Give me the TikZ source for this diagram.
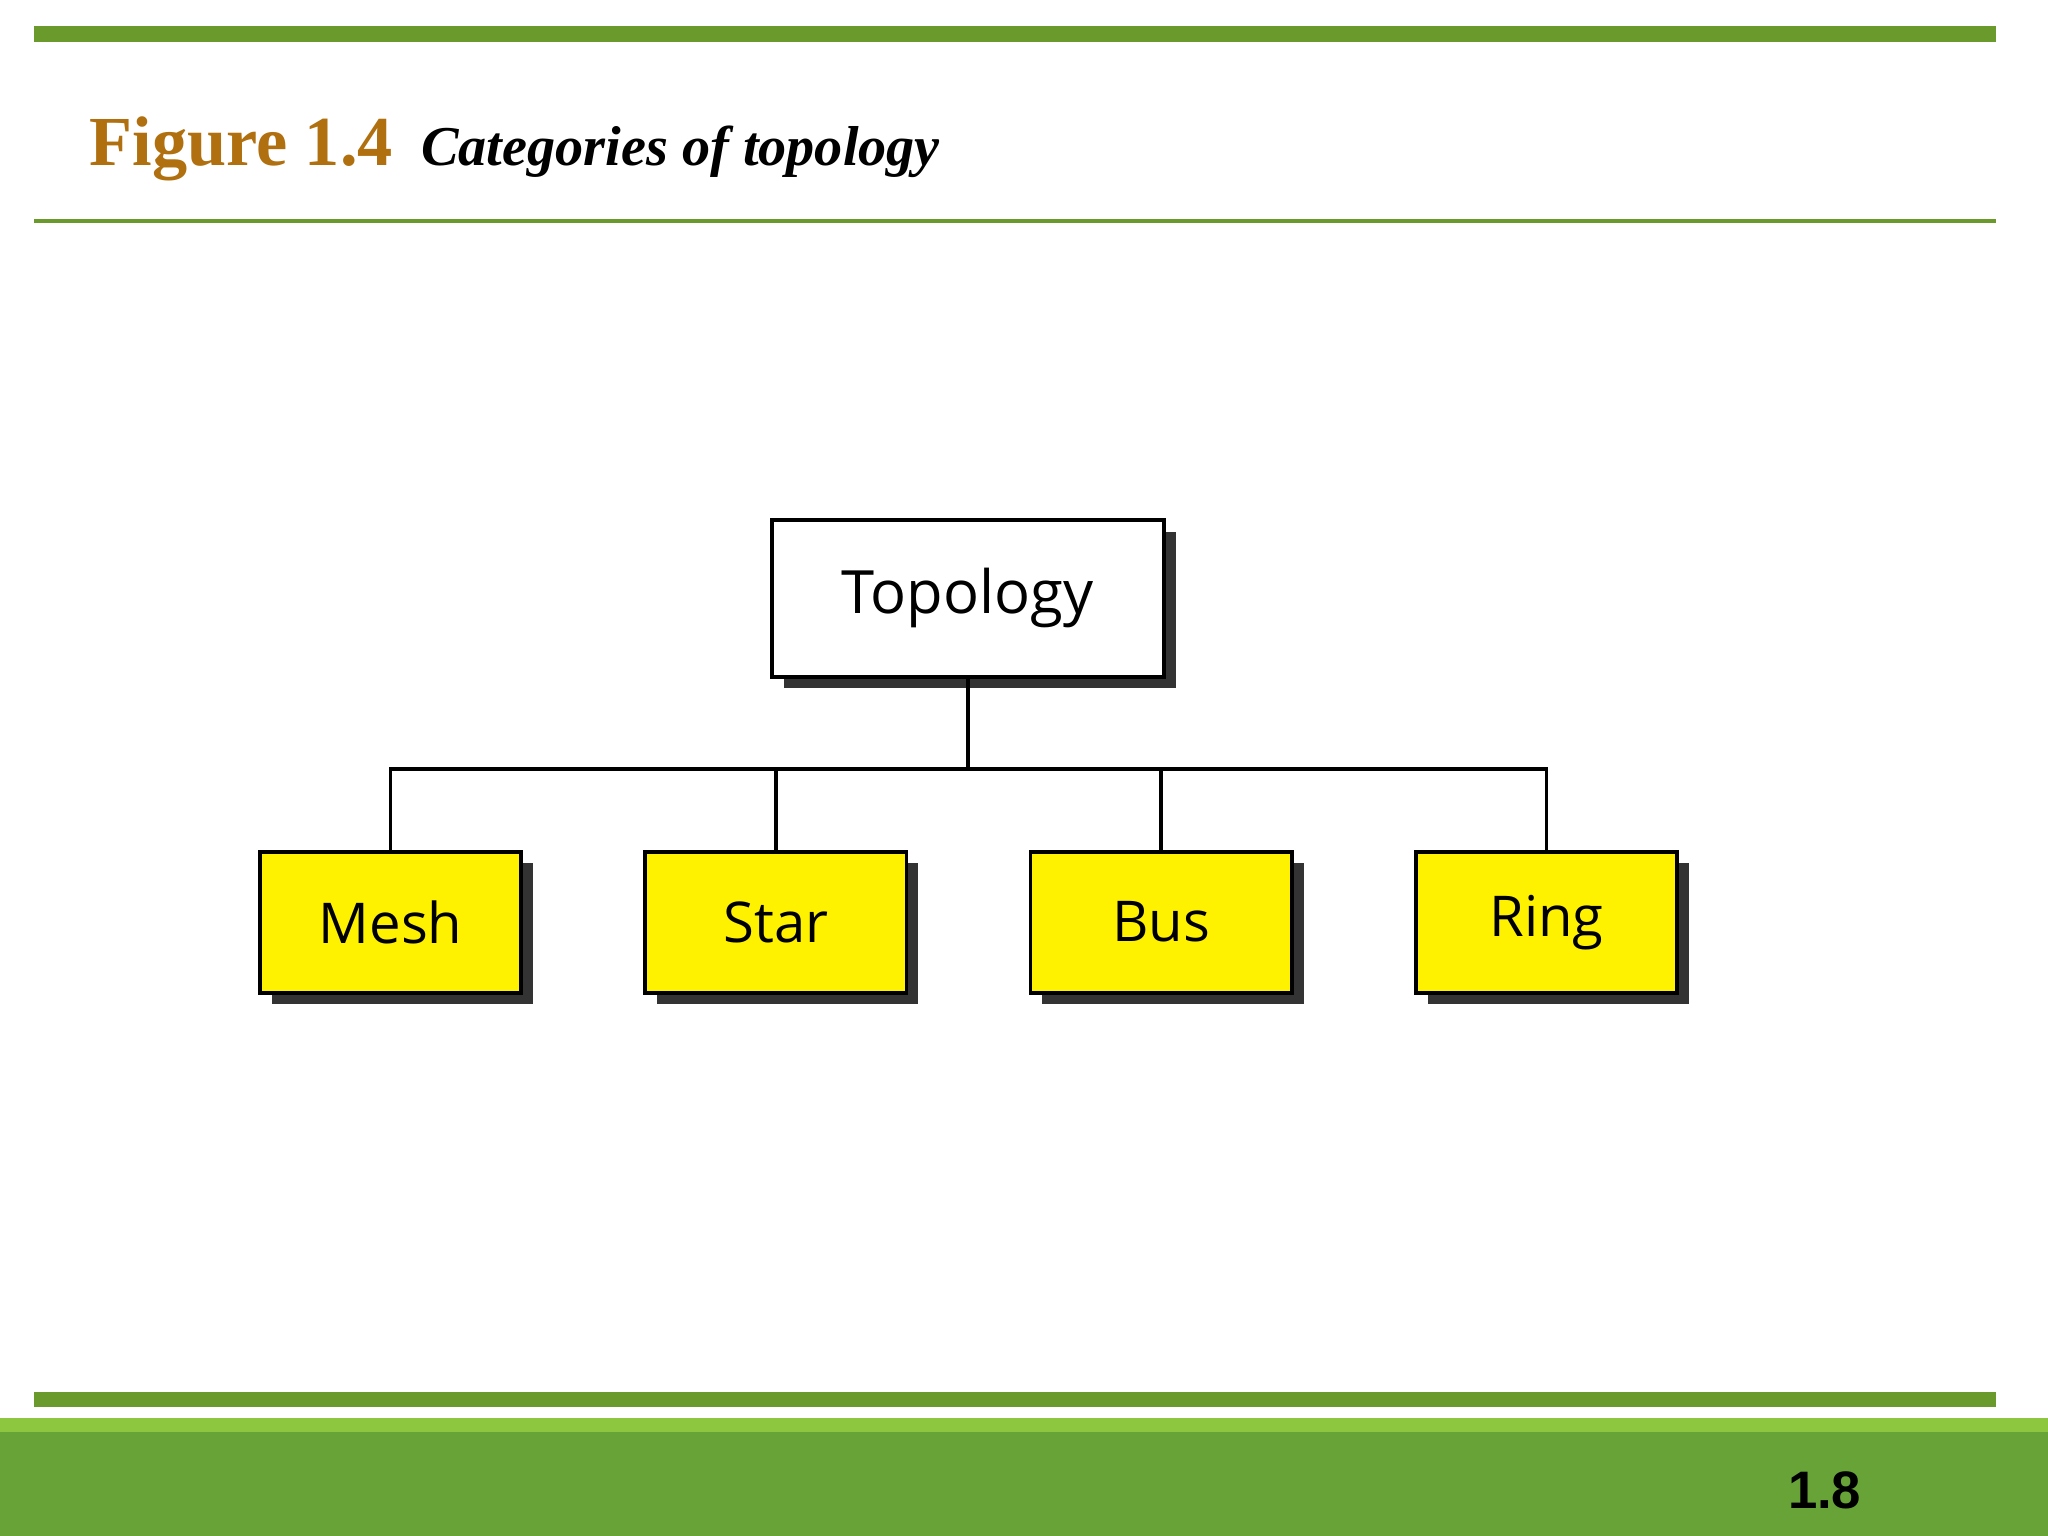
\documentclass[tikz,border=0pt]{standalone}
\usepackage{fontspec}
\setmainfont{Liberation Serif}
\newfontfamily\boxfont{Open Sans}
\newfontfamily\numfont{Liberation Sans}
\definecolor{barg}{HTML}{6A9A2C}
\definecolor{lightg}{HTML}{8DC63F}
\definecolor{footg}{HTML}{67A337}
\definecolor{figc}{HTML}{B0700F}
\definecolor{shad}{HTML}{333333}
\begin{document}
\begin{tikzpicture}[x=0.013061cm,y=-0.013061cm,
  boxstyle/.style={draw=black,line width=1.1pt,minimum width=200*0.013061cm,minimum height=108*0.013061cm,inner sep=0pt,font=\boxfont\fontsize{16}{18}\selectfont,fill=yellow},
  shadow/.style={fill=shad,draw=none},
  conn/.style={line width=1.1pt}]
\useasboundingbox (0,0) rectangle (1568,1176);
\fill[white] (0,0) rectangle (1568,1176);
\fill[barg] (26,20) rectangle (1528,32);
\fill[barg] (26,168) rectangle (1528,171);
\node[anchor=base west,inner sep=0pt,text=figc,font=\fontsize{20}{24}\selectfont\bfseries] (fig) at (68,127) {Figure 1.4};
\node[anchor=base west,inner sep=0pt,font=\fontsize{16}{20}\selectfont\bfseries\itshape] (cap) at (322,127) {Categories of topology};
% top box
\fill[shadow] (600,407) rectangle (900,527);
\node[boxstyle,fill=white,minimum width=300*0.013061cm,minimum height=120*0.013061cm,font=\boxfont\fontsize{17}{20}\selectfont] (top) at (741,458) {Topology};
\foreach \n/\t/\x in {mesh/Mesh/299,star/Star/594,bus/Bus/889,ring/Ring/1184}{
  \fill[shadow] (\x-91,661) rectangle (\x+109,769);
  \node[boxstyle] (\n) at (\x,706) {\t};
}
\coordinate (j) at (741,589);
\draw[conn] (top.south) -- (j);
\draw[conn] (mesh.north) |- (ring.north |- j) -- (ring.north);
\draw[conn] (star.north) -- (star.north |- j);
\draw[conn] (bus.north) -- (bus.north |- j);
% footer
\fill[barg] (26,1066) rectangle (1528,1077);
\fill[lightg] (0,1086) rectangle (1568,1096);
\fill[footg] (0,1096) rectangle (1568,1176);
\node[inner sep=0pt,font=\numfont\fontsize{15}{18}\selectfont\bfseries] (pg) at (1397,1141) {1.8};
\end{tikzpicture}
\end{document}
